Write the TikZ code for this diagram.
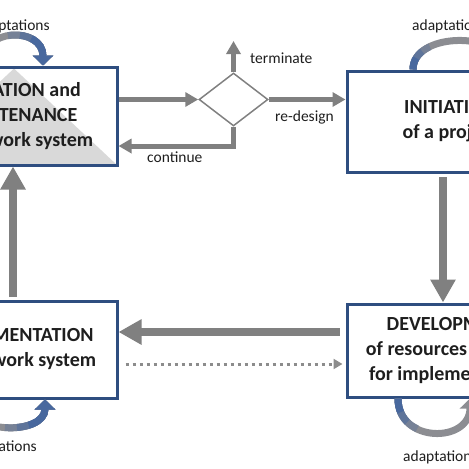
\documentclass[tikz,border=0pt]{standalone}
\usepackage{fontspec}
\setmainfont{Carlito}
\usetikzlibrary{arrows.meta,shapes.geometric,backgrounds,calc}
\definecolor{boxblue}{RGB}{47,78,128}
\definecolor{argrey}{RGB}{128,128,128}
\definecolor{dotgrey}{RGB}{140,140,140}
\definecolor{adblue}{RGB}{72,104,158}
\definecolor{adgrey}{RGB}{140,141,146}
\definecolor{trigrey}{RGB}{217,217,217}
\definecolor{txt}{RGB}{30,30,30}
\colorlet{adA}{adgrey!67!adblue}
\colorlet{adB}{adgrey!33!adblue}
\begin{document}
\begin{tikzpicture}[x=1pt,y=-1pt,
  stagebox/.style={draw=boxblue, line width=3pt, align=center,
    font=\fontsize{20}{25}\selectfont\bfseries, text=txt,
    minimum width=206pt, inner sep=0pt},
  lbl/.style={font=\fontsize{15.5}{18}\selectfont, text=txt, inner sep=0pt},
  bigarrow/.style={draw=argrey, line width=7.5pt, -{Triangle[length=23pt,width=24pt]}},
  midarrow/.style={draw=argrey, line width=5pt, -{Triangle[length=13pt,width=14pt]}},
  dotarrow/.style={draw=dotgrey, line width=3pt, dash pattern=on 3.5pt off 3.5pt,
    -{Triangle[length=9pt,width=10pt]}},
  adapthead/.style={line width=7pt, -{Triangle[length=10pt,width=20pt]}},
  adaptline/.style={line width=7pt},
  decision/.style={diamond, draw=argrey, line width=1.5pt, minimum width=69pt,
    minimum height=53pt, inner sep=0pt}
]
\useasboundingbox (0,0) rectangle (469,469);
\clip (0,0) rectangle (469,469);

% stage boxes
\node[stagebox, minimum height=98pt] (om) at (14,116) {OPERATION and\\MAINTENANCE\\of the work system};
\node[stagebox, minimum height=97pt, minimum width=200pt] (im) at (17,349.5) {IMPLEMENTATION\\of the work system};
\node[stagebox, minimum height=101pt] (ini) at (450,121.5) {INITIATION\\of a project};
\node[stagebox, minimum height=93pt] (dev) at (450,350.5) {DEVELOPMENT\\of resources needed\\for implementation};

\begin{scope}[on background layer]
  \fill[trigrey] ([yshift=-3pt]om.north) -- ([xshift=-1.5pt,yshift=1.5pt]om.south east)
    -- ([xshift=1.5pt,yshift=1.5pt]om.south west) -- cycle;
\end{scope}

% decision
\node[decision] (dec) at (233.5,99.5) {};
\coordinate (term) at (233.5,41);
\coordinate (cont) at (233.5,146);
\coordinate (yA) at (0,332);
\coordinate (yB) at (0,364);
\coordinate (xL) at (13,0);
\coordinate (xR) at (443,0);

\draw[midarrow] (om.east |- dec.west) -- (dec.west);
\draw[midarrow] (dec.north) -- (term);
\draw[midarrow] (dec.east) -- (ini.west |- dec.east);
\draw[midarrow] (dec.south) -- (cont) -- (om.east |- cont);

\draw[bigarrow] ($(im.north -| xL)+(0,-2.5)$) -- (om.south -| xL);
\draw[bigarrow] ($(ini.south -| xR)+(0,3.5)$) -- (dev.north -| xR);
\draw[bigarrow] ($(dev.west |- yA)+(-6,0)$) -- (im.east |- yA);
\draw[dotarrow] ($(im.east |- yB)+(7,0)$) -- ($(dev.west |- yB)+(-3,0)$);

% adaptation loops (stepped grey-to-blue colouring)
\def\tlpath{([xshift=-33pt]om.north) .. controls +(0,-39) and +(0,-39) .. ([xshift=29pt]om.north)}
\def\blpath{([xshift=-50pt]im.south) .. controls +(0,36) and +(0,36) .. ([xshift=28pt]im.south)}
\def\trpath{([xshift=-37pt]ini.north) .. controls +(0,-37) and +(0,-37) .. ([xshift=47pt]ini.north)}
\def\brpath{([xshift=-52pt]dev.south) .. controls +(0,45) and +(0,45) .. ([xshift=20pt]dev.south)}

\draw[adapthead, draw=adgrey] \tlpath;
\draw[adapthead, draw=adA, dash pattern=on 0pt off 44pt on 500pt] \tlpath;
\draw[adapthead, draw=adB, dash pattern=on 0pt off 56pt on 500pt] \tlpath;
\draw[adapthead, draw=adblue, dash pattern=on 0pt off 68pt on 500pt] \tlpath;

\draw[adapthead, draw=adgrey] \blpath;
\draw[adapthead, draw=adA, dash pattern=on 0pt off 52pt on 500pt] \blpath;
\draw[adapthead, draw=adB, dash pattern=on 0pt off 64pt on 500pt] \blpath;
\draw[adapthead, draw=adblue, dash pattern=on 0pt off 76pt on 500pt] \blpath;

\draw[adapthead, draw=adgrey] \trpath;
\draw[adaptline, draw=adA, dash pattern=on 30pt off 1000pt] \trpath;
\draw[adaptline, draw=adB, dash pattern=on 21pt off 1000pt] \trpath;
\draw[adaptline, draw=adblue, dash pattern=on 12pt off 1000pt] \trpath;

\draw[adapthead, draw=adgrey] \brpath;
\draw[adaptline, draw=adA, dash pattern=on 38pt off 1000pt] \brpath;
\draw[adaptline, draw=adB, dash pattern=on 26pt off 1000pt] \brpath;
\draw[adaptline, draw=adblue, dash pattern=on 14pt off 1000pt] \brpath;

% labels
\node[lbl, anchor=base] (a1) at (12.5,30) {adaptations};
\node[lbl, anchor=base west] (a2) at (412,30) {adaptations};
\node[lbl, anchor=base east] (a3) at (37,451) {adaptations};
\node[lbl, anchor=base west] (a4) at (403,461) {adaptations};
\node[lbl, anchor=base west] (lt) at (250,63) {terminate};
\node[lbl, anchor=base west] (lr) at (275,121) {re-design};
\node[lbl, anchor=base west] (lc) at (147,162) {continue};
\end{tikzpicture}
\end{document}
